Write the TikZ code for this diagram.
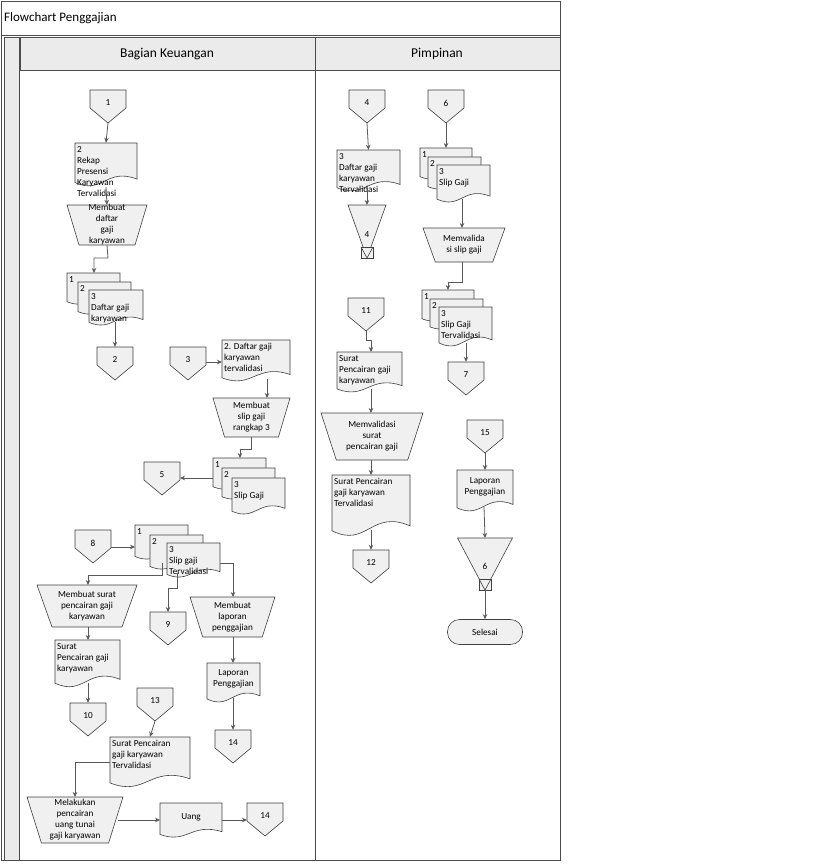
\documentclass[tikz,border=0pt]{standalone}
\usepackage{fontspec}
\setmainfont{Carlito}
\usetikzlibrary{arrows.meta,calc}
\tikzset{
  shp/.style={draw=black!75,fill=black!6,line width=0.6pt},
  arr/.style={draw=black!65,line width=0.8pt,-{Stealth[length=5pt,width=4.5pt]}},
  txt/.style={font=\fontsize{9.2}{11}\selectfont,inner sep=0pt},
  hdr/.style={draw=black!70,fill=black!8,line width=0.6pt},
}
\newcommand{\mydoc}[6]{% name x1 y1 x2 y2 text(left aligned)
  \pgfmathsetmacro\W{#4-#2}\pgfmathsetmacro\H{#5-#3}
  \path[shp] (#2,#3) -- (#4,#3) -- (#4,{#5-0.18*\H})
    .. controls ({#4-0.5*\W},{#5-0.45*\H}) and ({#2+0.45*\W},{#5+0.18*\H}) .. (#2,{#5-0.1*\H}) -- cycle;
  \node[inner sep=0,minimum width=\W pt,minimum height=\H pt] (#1) at ({(#2+#4)/2},{(#3+#5)/2}) {};
  \node[txt,anchor=north west,align=left] (#1t) at ({#2+2},{#3+3}) {#6};
}
\newcommand{\mydocc}[6]{% centered text
  \pgfmathsetmacro\W{#4-#2}\pgfmathsetmacro\H{#5-#3}
  \path[shp] (#2,#3) -- (#4,#3) -- (#4,{#5-0.18*\H})
    .. controls ({#4-0.5*\W},{#5-0.45*\H}) and ({#2+0.45*\W},{#5+0.18*\H}) .. (#2,{#5-0.1*\H}) -- cycle;
  \node[inner sep=0,minimum width=\W pt,minimum height=\H pt] (#1) at ({(#2+#4)/2},{(#3+#5)/2}) {};
  \node[txt,align=center] (#1t) at ({(#2+#4)/2},{(#3+#5)/2-0.1*\H}) {#6};
}
\newcommand{\offp}[4]{% name cx ytop label
  \path[shp] ({#2-18},#3) -- ({#2+18},#3) -- ({#2+18},{#3+18}) -- (#2,{#3+33}) -- ({#2-18},{#3+18}) -- cycle;
  \node[inner sep=0,minimum width=36pt,minimum height=33pt] (#1) at (#2,{#3+16.5}) {};
  \node[txt] (#1t) at (#2,{#3+13}) {#4};
}
\newcommand{\manop}[6]{% name x1 y1 x2 y2 text
  \pgfmathsetmacro\W{#4-#2}\pgfmathsetmacro\H{#5-#3}
  \path[shp] (#2,#3) -- (#4,#3) -- ({#4-0.15*\W},#5) -- ({#2+0.15*\W},#5) -- cycle;
  \node[inner sep=0,minimum width=\W pt,minimum height=\H pt] (#1) at ({(#2+#4)/2},{(#3+#5)/2}) {};
  \node[txt,align=center] (#1t) at ({(#2+#4)/2},{(#3+#5)/2}) {#6};
}
\newcommand{\store}[6]{% name cx ytop w h label
  \path[shp] ({#2-#4/2},#3) -- ({#2+#4/2},#3) -- (#2,{#3+#5}) -- cycle;
  \path[shp] ({#2-6},{#3+#5-11}) rectangle ({#2+6},{#3+#5});
  \draw[black!75,line width=0.6pt] ({#2-6},{#3+#5-11}) -- (#2,{#3+#5}) -- ({#2+6},{#3+#5-11});
  \node[inner sep=0,minimum width=#4 pt,minimum height=#5 pt] (#1) at (#2,{#3+#5/2}) {};
  \node[txt] (#1t) at (#2,{#3+#5*0.55}) {#6};
}
\begin{document}
\begin{tikzpicture}[x=1pt,y=-1pt]
\useasboundingbox (0,0) rectangle (819,865);
% frame
\draw[black!70,line width=0.7pt] (1,1) rectangle (560,860);
\draw[black!70,line width=0.7pt] (1,35) -- (560,35);
\node[font=\fontsize{13}{15}\selectfont,anchor=west,inner sep=0] (title) at (4,18) {Flowchart Penggajian};
\path[hdr] (4,37) rectangle (19,860);
\path[hdr] (20,37) rectangle (315,70);
\path[hdr] (315,37) rectangle (560,70);
\draw[black!70,line width=0.7pt] (315,70) -- (315,860);
\node[font=\fontsize{13.5}{15}\selectfont] (h1) at (167,54) {Bagian Keuangan};
\node[font=\fontsize{13.5}{15}\selectfont] (h2) at (437,54) {Pimpinan};

% ---- Bagian Keuangan ----
\offp{c1}{108}{90}{1}
\mydoc{d1}{75}{143}{137}{187}{2\\Rekap\\Presensi\\Karyawan\\Tervalidasi}
\manop{m1}{67}{205}{147}{245}{Membuat\\daftar\\gaji\\karyawan}
\mydoc{da}{67}{273}{120}{305}{1}
\mydoc{db}{78}{282}{131}{315}{2}
\mydoc{dc}{89}{290}{143}{326}{3\\Daftar gaji\\karyawan}
\draw[arr] (c1.south) -- (d1.north);
\draw[arr] (d1.south) -- (m1.north);
\draw[arr] (m1.south) -- (108,258) -| (94,273);
\offp{c2}{115}{347}{2}
\draw[arr] (115,322) -- (c2.north);

\offp{c3}{188}{347}{3}
\mydoc{d3}{222}{340}{290}{382}{2. Daftar gaji\\karyawan\\tervalidasi}
\draw[arr] (206,362) -- (222,362);
\manop{m3}{213}{398}{290}{437}{Membuat\\slip gaji\\rangkap 3}
\draw[arr] (267,379) -- (267,398);
\mydoc{sa}{213}{458}{266}{490}{1}
\mydoc{sb}{222}{468}{275}{500}{2}
\mydoc{sc}{232}{478}{285}{515}{3\\Slip Gaji}
\draw[arr] (251,437) -- (251,449) -| (240,458);
\offp{c5}{162}{462}{5}
\draw[arr] (213,478) -- (180,478);

\offp{c8}{93}{530}{8}
\mydoc{va}{135}{525}{188}{560}{1}
\mydoc{vb}{150}{535}{203}{570}{2}
\mydoc{vc}{167}{543}{220}{578}{3\\Slip gaji\\Tervalidasi}
\draw[arr] (111,547) -- (135,547);
\manop{m4}{37}{585}{137}{627}{Membuat surat\\pencairan gaji\\karyawan}
\draw[arr] (162,563) -- (162,575) -| (88,585);
\offp{c9}{168}{612}{9}
\draw[arr] (177,573) -- (177,588) -| (168,612);
\manop{m5}{190}{597}{275}{637}{Membuat\\laporan\\penggajian}
\draw[arr] (220,563) -| (233,597);
\mydoc{d4}{55}{640}{120}{688}{Surat\\Pencairan gaji\\karyawan}
\draw[arr] (88,627) -- (88,640);
\offp{c10}{88}{703}{10}
\draw[arr] (88,683) -- (c10.north);
\mydocc{d5}{207}{663}{260}{703}{Laporan\\Penggajian}
\draw[arr] (233,637) -- (233,663);
\offp{c14a}{233}{730}{14}
\draw[arr] (233,698) -- (c14a.north);
\offp{c13}{155}{688}{13}
\mydoc{d6}{110}{737}{190}{788}{Surat Pencairan\\gaji karyawan\\Tervalidasi}
\draw[arr] (c13.south) -- (d6.north);
\manop{m6}{27}{797}{123}{843}{Melakukan\\pencairan\\uang tunai\\gaji karyawan}
\draw[arr] (110,762) -- (75,762) -- (75,797);
\mydocc{d7}{160}{803}{222}{838}{Uang}
\draw[arr] (118,820) -- (160,820);
\offp{c14b}{265}{803}{14}
\draw[arr] (222,820) -- (247,820);

% ---- Pimpinan ----
\offp{c4}{367}{90}{4}
\mydoc{d8}{337}{150}{400}{192}{3\\Daftar gaji\\karyawan\\Tervalidasi}
\draw[arr] (c4.south) -- (d8.north);
\store{s4}{367}{205}{38}{53}{4}
\draw[arr] (367,188) -- (367,205);

\offp{c6}{446}{90}{6}
\mydoc{pa}{420}{148}{472}{180}{1}
\mydoc{pb}{428}{157}{481}{190}{2}
\mydoc{pc}{437}{165}{490}{203}{3\\Slip Gaji}
\draw[arr] (c6.south) -- (446,148);
\manop{m7}{423}{228}{505}{262}{Memvalida\\si slip gaji}
\draw[arr] (462,199) -- (462,228);
\mydoc{qa}{422}{290}{474}{322}{1}
\mydoc{qb}{430}{299}{483}{330}{2}
\mydoc{qc}{439}{307}{492}{347}{3\\Slip Gaji\\Tervalidasi}
\draw[arr] (462,262) -- (462,282) -| (448,290);
\offp{c7}{466}{362}{7}
\draw[arr] (466,343) -- (c7.north);

\offp{c11}{366}{298}{11}
\mydoc{d9}{337}{352}{402}{393}{Surat\\Pencairan gaji\\karyawan}
\draw[arr] (c11.south) -- (366,340) -- (371,340) -- (371,352);
\manop{m8}{321}{413}{423}{460}{Memvalidasi\\surat\\pencairan gaji}
\draw[arr] (371,389) -- (371,413);
\mydoc{d10}{332}{475}{410}{537}{Surat Pencairan\\gaji karyawan\\Tervalidasi}
\draw[arr] (371,460) -- (371,475);
\offp{c12}{371}{550}{12}
\draw[arr] (371,530) -- (c12.north);

\offp{c15}{485}{420}{15}
\mydocc{d11}{457}{470}{513}{512}{Laporan\\Penggajian}
\draw[arr] (c15.south) -- (485,470);
\store{s6}{485}{538}{55}{52}{6}
\draw[arr] (484,507) -- (485,538);
\node[draw=black!75,fill=black!6,line width=0.6pt,rounded corners=12pt,minimum width=75pt,minimum height=25pt,txt] (end) at (485,632) {Selesai};
\draw[arr] (485,590) -- (end.north);
\end{tikzpicture}
\end{document}
